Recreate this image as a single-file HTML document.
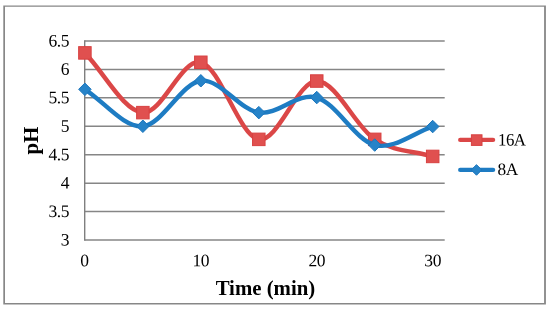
<!DOCTYPE html><html><head><meta charset="utf-8"><title>pH vs Time</title>
<style>html,body{margin:0;padding:0;background:#fff;overflow:hidden}svg{display:block}text{font-family:"Liberation Serif","Times New Roman",serif;fill:#000}</style></head><body>
<svg width="550" height="309" viewBox="0 0 550 309">
<rect x="0" y="0" width="550" height="309" fill="#fff"/>
<path fill="#878787" fill-rule="evenodd" d="M3.3 5.4H545.9V304.55H3.3Z M5.0 6.85H544.1V302.95H5.0Z"/>
<line x1="84.70" y1="40.95" x2="444.7" y2="40.95" stroke="#868686" stroke-width="1.5"/>
<line x1="84.70" y1="69.39" x2="444.7" y2="69.39" stroke="#868686" stroke-width="1.5"/>
<line x1="84.70" y1="97.84" x2="444.7" y2="97.84" stroke="#868686" stroke-width="1.5"/>
<line x1="84.70" y1="126.28" x2="444.7" y2="126.28" stroke="#868686" stroke-width="1.5"/>
<line x1="84.70" y1="154.72" x2="444.7" y2="154.72" stroke="#868686" stroke-width="1.5"/>
<line x1="84.70" y1="183.16" x2="444.7" y2="183.16" stroke="#868686" stroke-width="1.5"/>
<line x1="84.70" y1="211.61" x2="444.7" y2="211.61" stroke="#868686" stroke-width="1.5"/>
<line x1="84.70" y1="240.05" x2="444.7" y2="240.05" stroke="#868686" stroke-width="1.5"/>
<line x1="84.70" y1="40.20" x2="84.70" y2="240.80" stroke="#7f7f7f" stroke-width="1.4"/>
<text transform="translate(69.1 46.40) rotate(0.03)" font-size="17.5" letter-spacing="-0.4" text-anchor="end">6.5</text>
<text transform="translate(69.1 74.84) rotate(0.03)" font-size="17.5" letter-spacing="-0.4" text-anchor="end">6</text>
<text transform="translate(69.1 103.29) rotate(0.03)" font-size="17.5" letter-spacing="-0.4" text-anchor="end">5.5</text>
<text transform="translate(69.1 131.73) rotate(0.03)" font-size="17.5" letter-spacing="-0.4" text-anchor="end">5</text>
<text transform="translate(69.1 160.17) rotate(0.03)" font-size="17.5" letter-spacing="-0.4" text-anchor="end">4.5</text>
<text transform="translate(69.1 188.61) rotate(0.03)" font-size="17.5" letter-spacing="-0.4" text-anchor="end">4</text>
<text transform="translate(69.1 217.06) rotate(0.03)" font-size="17.5" letter-spacing="-0.4" text-anchor="end">3.5</text>
<text transform="translate(69.1 245.50) rotate(0.03)" font-size="17.5" letter-spacing="-0.4" text-anchor="end">3</text>
<text transform="translate(84.50 266.3) rotate(0.03)" font-size="17.5" letter-spacing="-0.4" text-anchor="middle">0</text>
<text transform="translate(200.83 266.3) rotate(0.03)" font-size="17.5" letter-spacing="-0.4" text-anchor="middle">10</text>
<text transform="translate(316.76 266.3) rotate(0.03)" font-size="17.5" letter-spacing="-0.4" text-anchor="middle">20</text>
<text transform="translate(432.69 266.3) rotate(0.03)" font-size="17.5" letter-spacing="-0.4" text-anchor="middle">30</text>
<text x="265.4" y="294.9" font-size="20.8" font-weight="bold" text-anchor="middle">Time (min)</text>
<text transform="translate(38.2 140.5) rotate(-90)" font-size="20.8" font-weight="bold" text-anchor="middle">pH</text>
<path d="M84.90 52.90 C104.22 72.81 123.54 111.06 142.87 112.63 C162.19 114.19 181.51 57.83 200.83 62.28 C220.15 66.74 239.47 136.23 258.80 139.36 C278.12 142.49 297.44 81.05 316.76 81.05 C336.08 81.05 355.40 126.80 374.73 139.36 C394.05 151.92 413.37 150.74 432.69 156.43" fill="none" stroke="#db4747" stroke-width="4.4" stroke-linecap="round" stroke-linejoin="round"/>
<rect x="78.65" y="46.65" width="12.5" height="12.5" fill="#e0504f" stroke="#d84141" stroke-width="1"/>
<rect x="136.62" y="106.38" width="12.5" height="12.5" fill="#e0504f" stroke="#d84141" stroke-width="1"/>
<rect x="194.58" y="56.03" width="12.5" height="12.5" fill="#e0504f" stroke="#d84141" stroke-width="1"/>
<rect x="252.55" y="133.11" width="12.5" height="12.5" fill="#e0504f" stroke="#d84141" stroke-width="1"/>
<rect x="310.51" y="74.80" width="12.5" height="12.5" fill="#e0504f" stroke="#d84141" stroke-width="1"/>
<rect x="368.48" y="133.11" width="12.5" height="12.5" fill="#e0504f" stroke="#d84141" stroke-width="1"/>
<rect x="426.44" y="150.18" width="12.5" height="12.5" fill="#e0504f" stroke="#d84141" stroke-width="1"/>
<path d="M84.90 89.30 C104.22 101.63 123.54 127.70 142.87 126.28 C162.19 124.86 181.51 83.05 200.83 80.77 C220.15 78.49 239.47 109.83 258.80 112.63 C278.12 115.42 297.44 92.15 316.76 97.55 C336.08 102.96 355.40 140.22 374.73 145.05 C394.05 149.89 413.37 132.73 432.69 126.56" fill="none" stroke="#1e7cc3" stroke-width="4.4" stroke-linecap="round" stroke-linejoin="round"/>
<path d="M84.90 83.05 L91.15 89.30 L84.90 95.55 L78.65 89.30Z" fill="#2683c8" stroke="#1b76bd" stroke-width="1"/>
<path d="M142.87 120.03 L149.12 126.28 L142.87 132.53 L136.62 126.28Z" fill="#2683c8" stroke="#1b76bd" stroke-width="1"/>
<path d="M200.83 74.52 L207.08 80.77 L200.83 87.02 L194.58 80.77Z" fill="#2683c8" stroke="#1b76bd" stroke-width="1"/>
<path d="M258.80 106.38 L265.05 112.63 L258.80 118.88 L252.55 112.63Z" fill="#2683c8" stroke="#1b76bd" stroke-width="1"/>
<path d="M316.76 91.30 L323.01 97.55 L316.76 103.80 L310.51 97.55Z" fill="#2683c8" stroke="#1b76bd" stroke-width="1"/>
<path d="M374.73 138.80 L380.98 145.05 L374.73 151.30 L368.48 145.05Z" fill="#2683c8" stroke="#1b76bd" stroke-width="1"/>
<path d="M432.69 120.31 L438.94 126.56 L432.69 132.81 L426.44 126.56Z" fill="#2683c8" stroke="#1b76bd" stroke-width="1"/>
<line x1="460.2" y1="139.9" x2="493.1" y2="139.9" stroke="#db4747" stroke-width="4.3" stroke-linecap="round"/>
<rect x="471.4" y="134.8" width="10.6" height="10.6" fill="#e0504f" stroke="#d84141" stroke-width="1"/>
<text transform="translate(498.0 145.4) rotate(0.03) scale(0.96 1)" font-size="17.5" letter-spacing="-0.5">16A</text>
<line x1="460.2" y1="169.9" x2="493.1" y2="169.9" stroke="#1e7cc3" stroke-width="4.3" stroke-linecap="round"/>
<path d="M476.50 164.65 L481.80 169.95 L476.50 175.25 L471.20 169.95Z" fill="#2683c8" stroke="#1b76bd" stroke-width="1"/>
<text transform="translate(497.6 175.0) rotate(0.03) scale(0.99 1)" font-size="17.5" letter-spacing="-0.5">8A</text>
</svg></body></html>
